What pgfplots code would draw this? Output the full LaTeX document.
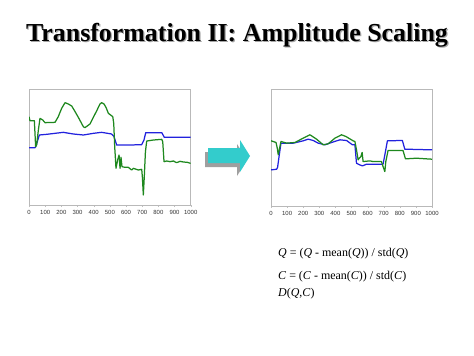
\documentclass[border=0pt]{standalone}
\usepackage{fontspec}
\setmainfont{Liberation Serif}
\setsansfont{Liberation Sans}
\usepackage{pgfplots}
\pgfplotsset{compat=1.18}
\definecolor{qblue}{HTML}{2222DD}
\definecolor{cgreen}{HTML}{1E881E}
\definecolor{arrowcyan}{HTML}{33CCCC}
\pgfplotsset{
  panel/.style={
    scale only axis,
    anchor=south west,
    xmin=0, xmax=1000,
    y dir=reverse,
    axis line style={gray!55, line width=0.5pt},
    xtick={0,100,...,1000},
    xtick pos=bottom,
    ytick=\empty,
    tick style={gray!50},
    major tick length=2bp,
    tick align=outside,
    /pgf/number format/assume math mode=true,
    /pgf/number format/1000 sep={},
    xticklabel style={font=\sffamily\fontsize{6}{7}\selectfont, text=black!80, inner sep=1pt, yshift=-2bp},
    every axis plot/.append style={line width=1.25pt, line join=round},
  }
}
\begin{document}
\begin{tikzpicture}
\begin{scope}[x=1bp,y=1bp]
\path[use as bounding box] (0,0) rectangle (474,355);
% title with shadow
\node[text=gray!70, font=\bfseries\fontsize{26}{30}\selectfont] at (238.2,318.8) {Transformation II: Amplitude Scaling};
\node[text=black, font=\bfseries\fontsize{26}{30}\selectfont] at (237,320) {Transformation II: Amplitude Scaling};
% arrow with shadow
\fill[gray!75] (205,203) -- (237,203) -- (237,211) -- (247,195) -- (237,179) -- (237,188) -- (205,188) -- cycle;
\fill[arrowcyan] (208,207) -- (240,207) -- (240,215) -- (250,199) -- (240,183) -- (240,192) -- (208,192) -- cycle;
% formulas
\begin{scope}[every node/.style={anchor=west, inner sep=0pt, font=\fontsize{12}{14}\selectfont}]
\node at (278,101.7) {\textit{Q} = (\textit{Q} - mean(\textit{Q})) / std(\textit{Q})};
\node at (278,78.3) {\textit{C} = (\textit{C} - mean(\textit{C})) / std(\textit{C})};
\node at (278,61.7) {\textit{D}(\textit{Q},\textit{C})};
\end{scope}
\end{scope}

\begin{axis}[panel, at={(29bp,150bp)}, width=161.7bp, height=116bp, ymin=27, ymax=375]
\addplot[qblue] coordinates {
(0,203)(37,203)(42,200)(64,165)(109,163)(212,157)(274,162)(336,165)(398,160)(449,157)(511,162)(526,170)(542,195)(625,195)(697,194)(711,180)(722,158)(770,158)(821,158)(837,172)(913,172)(1000,172)};
\addplot[cgreen] coordinates {
(0,110)(6,122)(33,122)(37,160)(41,200)(47,195)(58,150)(68,115)(85,120)(99,128)(161,127)(181,110)(202,85)(223,68)(243,72)(264,78)(285,95)(305,112)(336,140)(346,143)(377,132)(398,112)(419,92)(439,72)(449,68)(464,72)(476,82)(491,100)(518,110)(524,130)(530,200)(538,265)(548,240)(557,225)(563,265)(569,232)(575,260)(594,262)(614,262)(635,270)(645,265)(676,270)(697,268)(701,290)(707,345)(713,290)(720,215)(728,183)(770,180)(821,178)(827,185)(835,245)(852,243)(872,245)(893,243)(913,248)(934,244)(955,246)(979,247)(1000,250)};
\end{axis}

\begin{axis}[panel, at={(271bp,149bp)}, width=161bp, height=117bp, ymin=28, ymax=378]
\addplot[qblue] coordinates {
(0,270)(35,268)(41,262)(50,230)(62,190)(138,190)(200,183)(231,178)(262,182)(293,190)(335,195)(376,188)(428,180)(469,182)(506,195)(521,195)(531,250)(552,255)(568,258)(593,253)(696,253)(707,225)(723,183)(816,182)(831,208)(1000,210)};
\addplot[cgreen] coordinates {
(0,183)(31,188)(39,205)(45,225)(62,185)(97,190)(149,188)(180,180)(221,170)(242,165)(283,178)(324,195)(355,192)(397,175)(438,165)(465,170)(510,183)(521,185)(531,210)(541,240)(548,235)(558,230)(566,218)(572,245)(614,243)(634,245)(686,245)(696,260)(707,275)(713,245)(727,212)(820,212)(835,237)(903,235)(1000,238)};
\end{axis}
\end{tikzpicture}
\end{document}
